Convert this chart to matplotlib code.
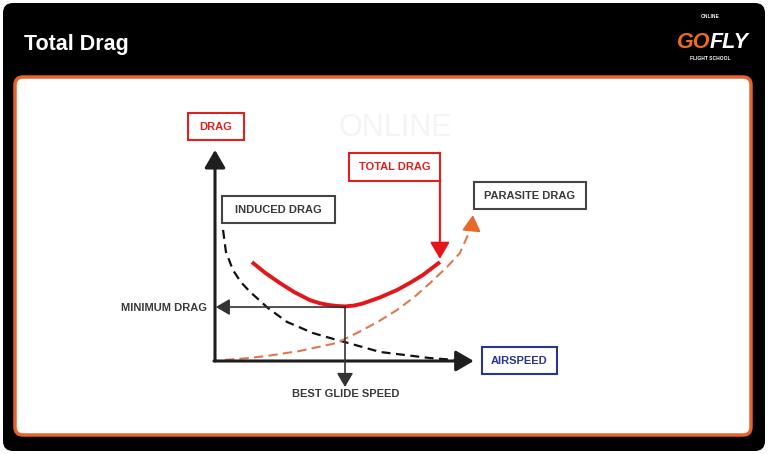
import matplotlib
matplotlib.use("Agg")
import matplotlib.pyplot as plt
from matplotlib.patches import FancyBboxPatch, Rectangle

plt.rcParams['font.family'] = ['Liberation Sans', 'DejaVu Sans']

# courbes (vitesse 0-100, trainee 0-100)
induced_x = [3.1, 4.2, 6.9, 10.0, 13.5, 20.4, 27.7, 37.7, 46.9, 50.0, 63.5, 82.7, 92.3]
induced_y = [62.4, 52.0, 43.3, 37.5, 32.9, 25.2, 18.6, 13.3, 10.0, 9.0, 4.3, 1.4, 0.5]

total_x = [14.2, 19.5, 25.0, 30.5, 36.5, 40.0, 43.5, 46.9, 50.0, 53.5, 56.9, 63.5, 70.0, 75.0, 80.0, 86.5]
total_y = [47.1, 41.8, 37.1, 32.8, 29.0, 27.6, 26.7, 26.2, 26.0, 26.4, 27.4, 30.3, 33.8, 37.2, 41.0, 47.1]

parasite_x = [3.8, 12.0, 20.0, 32.7, 46.9, 56.9, 63.5, 70.0, 76.5, 82.7, 89.0, 94.2, 98.8]
parasite_y = [0.5, 1.3, 2.4, 4.8, 8.6, 14.8, 19.3, 24.3, 30.3, 37.1, 44.5, 51.4, 64.3]

min_speed = 50.0
min_drag = 25.7

W, H = 768, 454
fig = plt.figure(figsize=(W / 100, H / 100), dpi=100)

# fond et cadre (coordonnees pixels)
bg = fig.add_axes([0, 0, 1, 1], zorder=0)
bg.set_xlim(0, W)
bg.set_ylim(H, 0)
bg.axis("off")

bg.add_patch(FancyBboxPatch((3, 3), W - 6, H - 6, boxstyle="round,pad=0,rounding_size=10",
                            fc="#000000", ec="none"))
bg.add_patch(FancyBboxPatch((15, 77), 736, 358, boxstyle="round,pad=0,rounding_size=8",
                            fc="white", ec="#e8632b", lw=2.5))

bg.text(24, 50, "Total Drag", color="white", fontsize=15.5, fontweight="bold", va="baseline")

# logo
bg.text(710, 48, "GO", color="#ef6a23", fontsize=15.5, fontweight="bold", style="italic",
        ha="right", va="baseline")
bg.text(710, 48, "FLY", color="white", fontsize=15.5, fontweight="bold", style="italic",
        ha="left", va="baseline")
bg.text(710, 17, "ONLINE", color="white", fontsize=3.5, fontweight="bold", ha="center", va="center")
bg.text(710, 58, "FLIGHT SCHOOL", color="white", fontsize=3.5, fontweight="bold", ha="center", va="center")

# filigrane
bg.text(395, 128, "ONLINE", color="#f4f4f4", fontsize=22, ha="center", va="center", zorder=1)

# etiquettes encadrees
boxes = [
    ("DRAG", 188, 113, 56, 27, "#e0201f", "#e0201f"),
    ("TOTAL DRAG", 349, 153, 91, 28, "#e0201f", "#e0201f"),
    ("INDUCED DRAG", 222, 196, 113, 27, "#444444", "#3a3a3a"),
    ("PARASITE DRAG", 474, 182, 112, 27, "#444444", "#3a3a3a"),
    ("AIRSPEED", 482, 347, 75, 27, "#2b3590", "#2b3590"),
]
for label, x0, y0, w, h, ec, tc in boxes:
    bg.add_patch(Rectangle((x0, y0), w, h, fc="white", ec=ec, lw=1.5, zorder=3))
    bg.text(x0 + w / 2, y0 + h / 2 + 0.5, label, color=tc, fontsize=8, fontweight="bold",
            ha="center", va="center", zorder=4)

bg.text(207, 308, "MINIMUM DRAG", color="#3a3a3a", fontsize=8, fontweight="bold",
        ha="right", va="center")
bg.text(346, 394, "BEST GLIDE SPEED", color="#3a3a3a", fontsize=8, fontweight="bold",
        ha="center", va="center")

# graphique
ax = fig.add_axes([215 / W, 1 - 361 / H, 260 / W, 210 / H], zorder=2)
ax.set_xlim(0, 100)
ax.set_ylim(0, 100)
ax.patch.set_alpha(0)
ax.axis("off")

ax.plot(induced_x, induced_y, color="#111111", lw=1.6, ls=(0, (4, 2.5)), clip_on=False)
ax.plot(parasite_x, parasite_y, color="#dc7a4f", lw=1.5, ls=(0, (4.5, 2.5)), clip_on=False)
ax.plot(total_x, total_y, color="#e3161b", lw=2.8, clip_on=False, solid_capstyle="butt",
        solid_joinstyle="round")

head = "-|>,head_length=0.6,head_width=0.35"
ax.annotate("", xy=(parasite_x[-1] + 0.4, 69.5), xytext=(parasite_x[-1], parasite_y[-1]),
            arrowprops=dict(arrowstyle=head, color="#e8692c", lw=1.5, mutation_scale=16,
                            shrinkA=0, shrinkB=0), annotation_clip=False)

# axes avec fleches
ax.annotate("", xy=(0, 100.5), xytext=(0, 0),
            arrowprops=dict(arrowstyle=head, color="#1e1e1e", lw=2.2, mutation_scale=18,
                            shrinkA=0, shrinkB=0), annotation_clip=False)
ax.annotate("", xy=(99.5, 0), xytext=(-0.4, 0),
            arrowprops=dict(arrowstyle=head, color="#1e1e1e", lw=2.2, mutation_scale=18,
                            shrinkA=0, shrinkB=0), annotation_clip=False)

# trainee minimale / vitesse de finesse max
ax.annotate("", xy=(0.3, min_drag), xytext=(min_speed, min_drag),
            arrowprops=dict(arrowstyle=head, color="#333333", lw=1.2, mutation_scale=14,
                            shrinkA=0, shrinkB=0), annotation_clip=False)
ax.annotate("", xy=(min_speed, -12.4), xytext=(min_speed, min_drag),
            arrowprops=dict(arrowstyle=head, color="#333333", lw=1.2, mutation_scale=14,
                            shrinkA=0, shrinkB=0), annotation_clip=False)

# fleche TOTAL DRAG
ax.annotate("", xy=(total_x[-1], 48.6), xytext=(total_x[-1], 85.7),
            arrowprops=dict(arrowstyle=head, color="#e3161b", lw=1.5, mutation_scale=17,
                            shrinkA=0, shrinkB=0), annotation_clip=False)

fig.savefig("out.png", dpi=100, facecolor="white")
